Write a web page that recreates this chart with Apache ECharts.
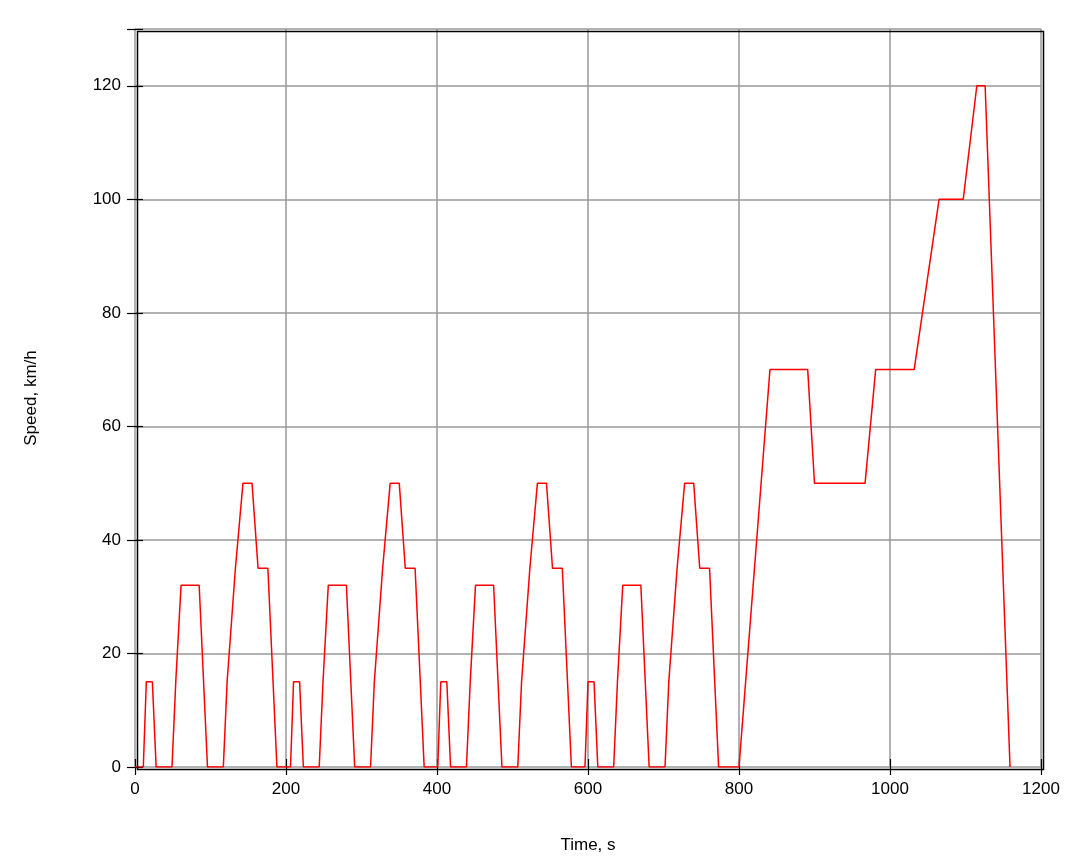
<!DOCTYPE html>
<html><head><meta charset="utf-8">
<script src="https://cdn.jsdelivr.net/npm/echarts@6/dist/echarts.min.js"></script>
<style>html,body{margin:0;padding:0;background:#fff}#c{width:1080px;height:864px}</style>
</head><body><div id="c"></div>
<script>
// One ECE-15 urban cycle (time s, speed km/h), repeated 4 times
const eceTimes  = [0, 11, 15, 23, 28, 49, 54, 56, 61, 85, 96, 117, 122, 124, 133, 135, 143, 155, 163, 176, 188, 195];
const eceSpeeds = [0, 0, 15, 15, 0, 0, 15, 15, 32, 32, 0, 0, 15, 15, 35, 35, 50, 50, 35, 35, 0, 0];
// Extra-urban part
const eudcTimes  = [800, 841, 891, 900, 967, 981, 1032, 1065, 1097, 1115, 1126, 1159];
const eudcSpeeds = [0, 70, 70, 50, 50, 70, 70, 100, 100, 120, 120, 0];
const xTicks = [0, 200, 400, 600, 800, 1000, 1200];
const yTicks = [0, 20, 40, 60, 80, 100, 120];

const pts = [];
for (let k = 0; k < 4; k++) {
  eceTimes.forEach((t, i) => pts.push([t + 195 * k, eceSpeeds[i]]));
}
eudcTimes.forEach((t, i) => pts.push([t, eudcSpeeds[i]]));

const chart = echarts.init(document.getElementById('c'));
const lab = {color: '#000', fontSize: 17, fontFamily: 'Liberation Sans, Arial, sans-serif'};
const tick = {inside: true, length: 8, lineStyle: {color: '#000', width: 1.2}};
chart.setOption({
  animation: false,
  grid: {left: 135, right: 39, top: 29, bottom: 97, show: false},
  graphic: [{
    type: 'rect', left: 135, top: 29, z: 100, silent: true,
    shape: {width: 906, height: 738},
    style: {fill: 'none', stroke: '#000', lineWidth: 1.5}
  }],
  xAxis: [{
    type: 'value', min: 0, max: 1200, interval: 200,
    name: 'Time, s', nameLocation: 'middle', nameGap: 70, nameTextStyle: lab,
    axisLabel: Object.assign({margin: 14, formatter: v => xTicks.includes(v) ? String(v) : ''}, lab),
    axisLine: {show: false}, axisTick: tick,
    splitLine: {lineStyle: {color: '#999', width: 1.5}}
  }, {
    type: 'value', position: 'top', min: 0, max: 1200, interval: 200,
    axisLabel: {show: false}, axisLine: {show: false},
    axisTick: tick, splitLine: {show: false}
  }],
  yAxis: [{
    type: 'value', min: 0, max: 130, interval: 20,
    name: 'Speed, km/h', nameLocation: 'middle', nameGap: 95, nameRotate: 90, nameTextStyle: lab,
    axisLabel: Object.assign({margin: 14, formatter: v => yTicks.includes(v) ? String(v) : ''}, lab),
    axisLine: {show: false}, axisTick: tick,
    splitLine: {lineStyle: {color: '#999', width: 1.5}}
  }, {
    type: 'value', position: 'right', min: 0, max: 130, interval: 20,
    axisLabel: {show: false}, axisLine: {show: false},
    axisTick: tick, splitLine: {show: false}
  }],
  series: [{
    type: 'line', data: pts, showSymbol: false, symbol: 'none',
    lineStyle: {color: '#ff0000', width: 1.5}
  }]
});
</script></body></html>
